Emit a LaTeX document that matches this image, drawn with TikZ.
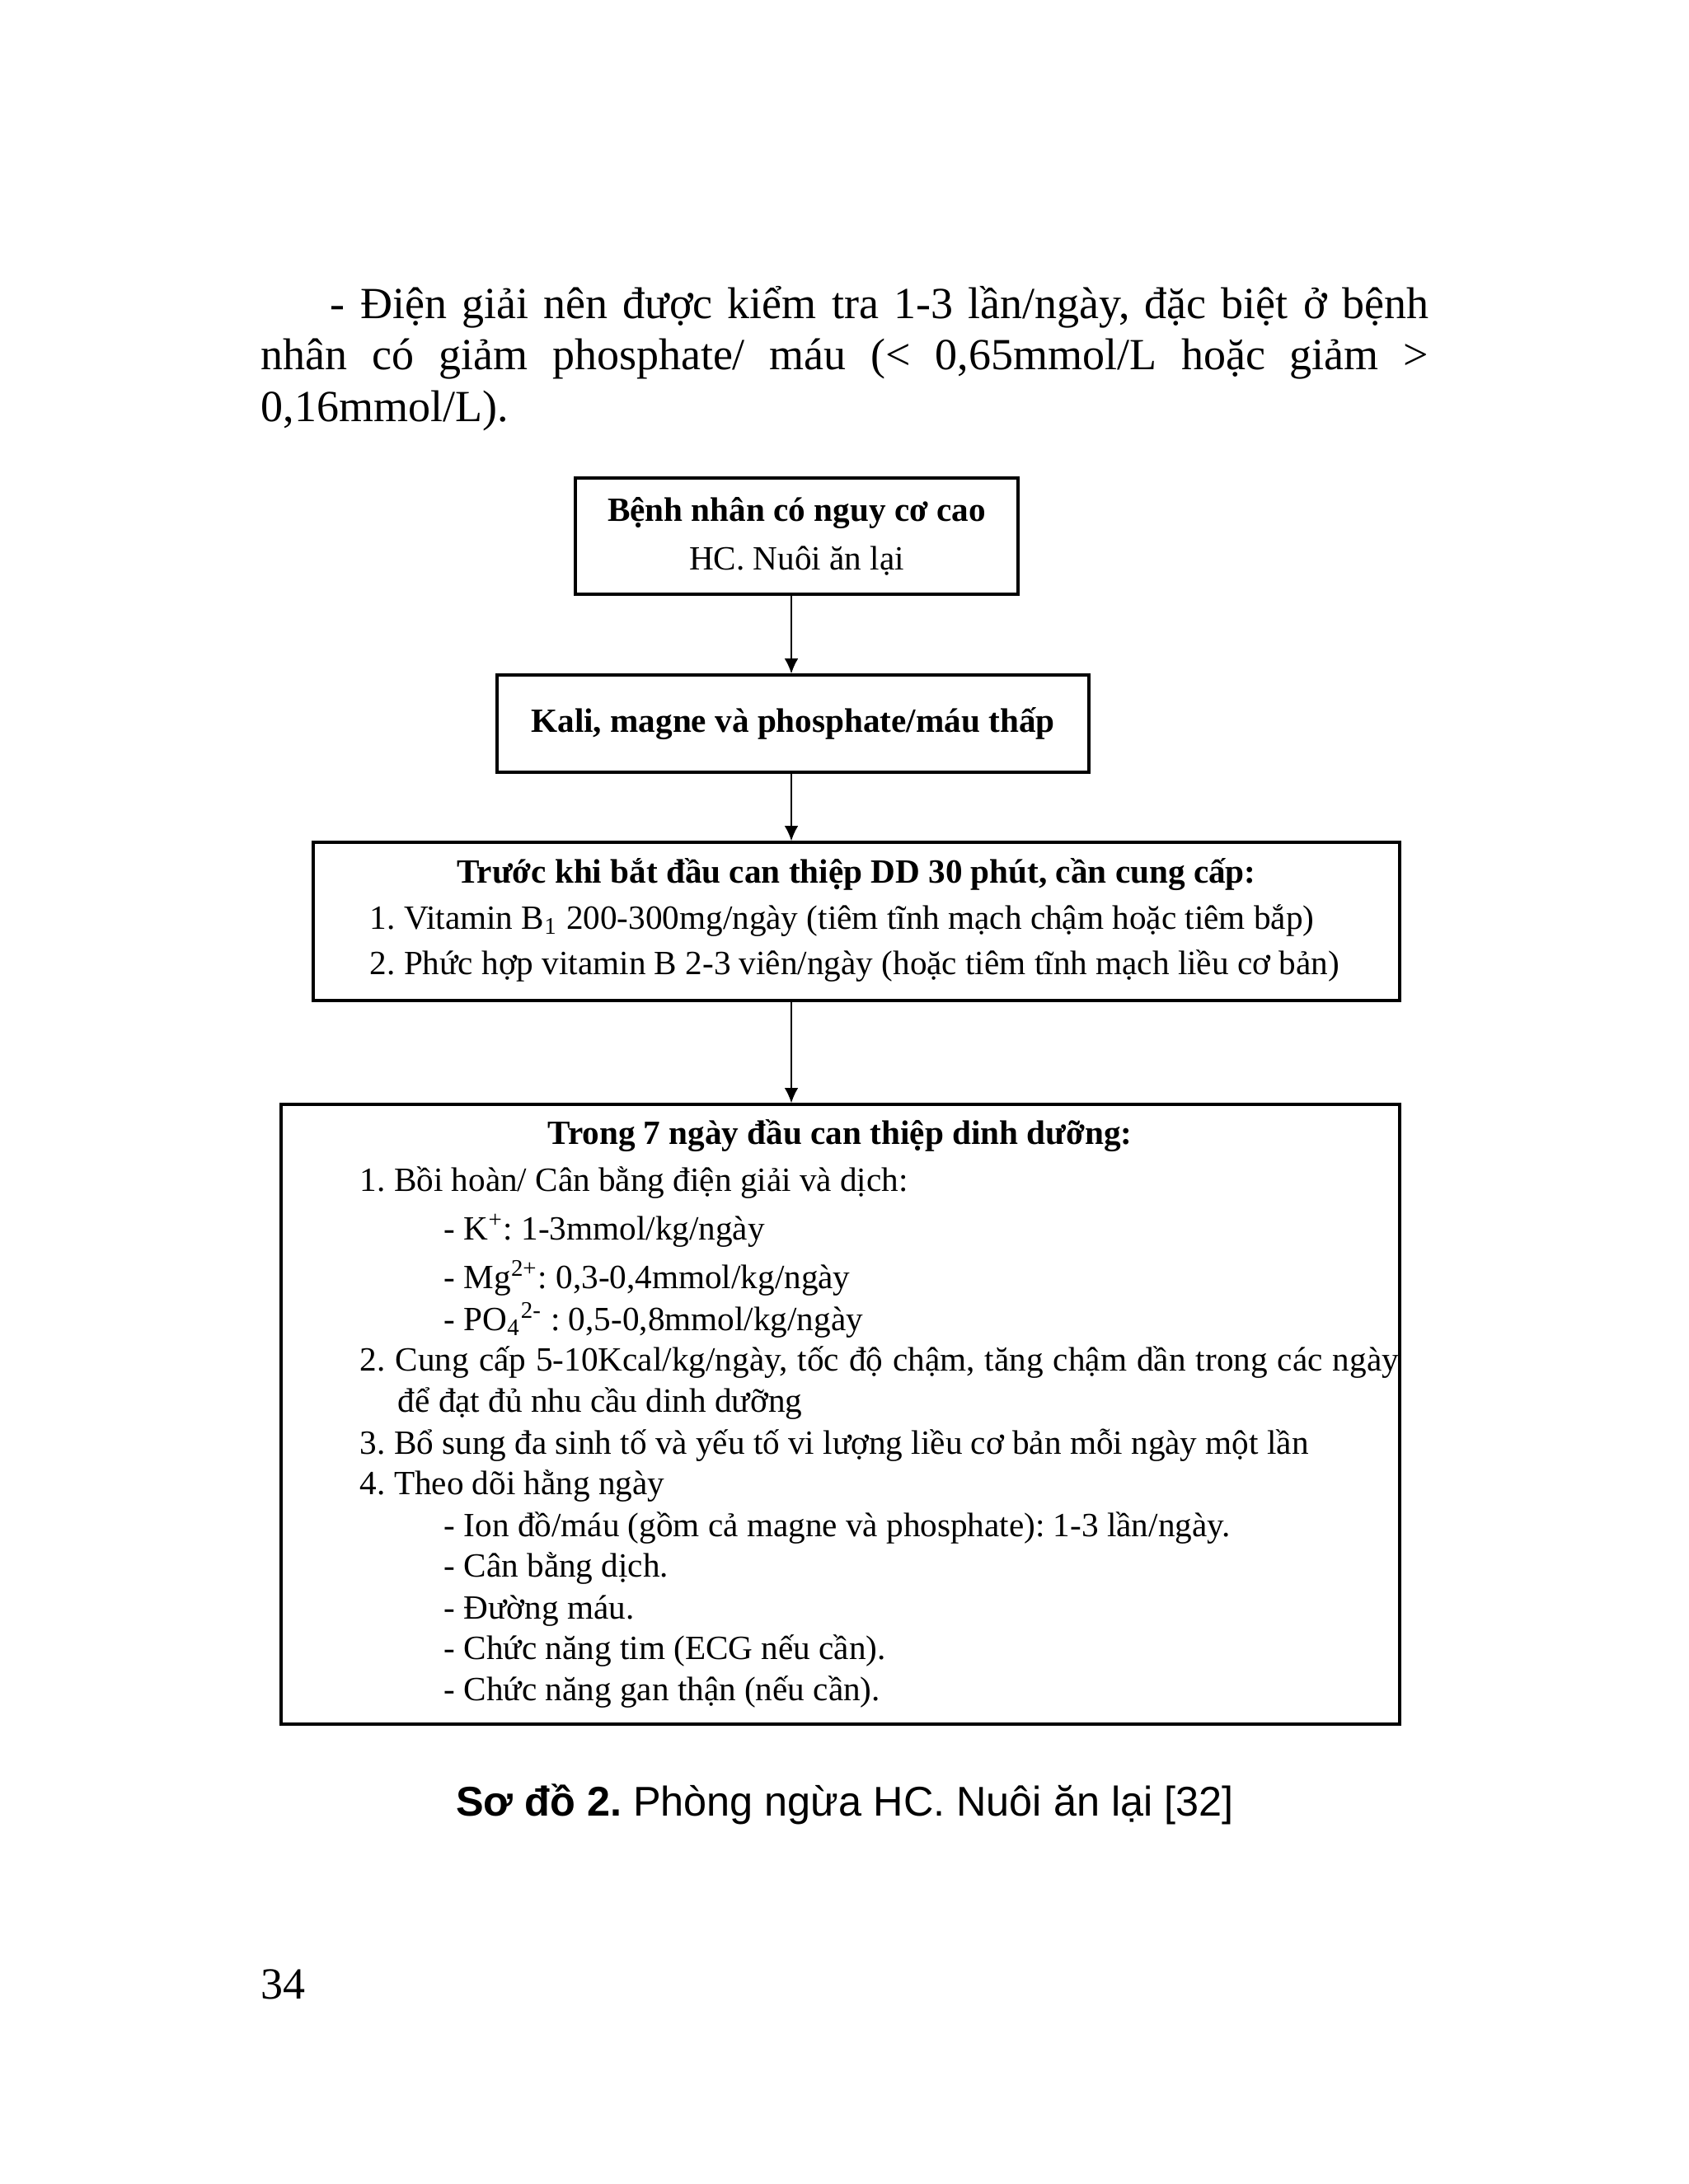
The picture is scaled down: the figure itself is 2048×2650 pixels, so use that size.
\documentclass[tikz,border=0pt]{standalone}
\usepackage{fontspec}
\setmainfont{Liberation Serif}
\newfontfamily\capfont{Liberation Sans}
\usetikzlibrary{arrows.meta}
\frenchspacing

\begin{document}
\begin{tikzpicture}[x=0.25pt, y=-0.25pt,
    box/.style={draw, line width=0.8pt, inner sep=0pt, align=center},
    boxfont/.style={font=\fontsize{10.3}{14.75}\selectfont},
    line/.style={boxfont, anchor=base west, inner sep=0pt},
    head/.style={boxfont, anchor=base, inner sep=0pt, font=\fontsize{10.3}{14.75}\selectfont\bfseries},
    body/.style={font=\fontsize{13.5}{15.6}\selectfont, anchor=base west, inner sep=0pt},
    arr/.style={-{Latex[length=4.6pt,width=4.2pt]}, line width=0.5pt}]

\useasboundingbox (0,0) rectangle (2048,2650);

% Text above the chart
\node[body] (p1) at (400,387) {\makebox[333pt][s]{- Điện giải nên được kiểm tra 1-3 lần/ngày, đặc biệt ở bệnh}};
\node[body] (p2) at (316,449) {\makebox[354pt][s]{nhân có giảm phosphate/ máu (< 0,65mmol/L hoặc giảm >}};
\node[body] (p3) at (316,512) {0,16mmol/L).};

% Boxes
\node[box, boxfont, minimum width=134.25pt, minimum height=35.25pt] (risk) at (966.5,650.5)
    {\textbf{Bệnh nhân có nguy cơ cao}\\HC. Nuôi ăn lại};
\node[box, boxfont, minimum width=179.5pt, minimum height=29.5pt] (low) at (962,878)
    {\textbf{Kali, magne và phosphate/máu thấp}};
\node[box, minimum width=329.5pt, minimum height=48pt] (before) at (1039,1118) {};
\node[box, minimum width=339.25pt, minimum height=188pt] (week) at (1019.5,1716) {};

% Text of the third box
\node[head] (beforeT) at (1039,1071) {Trước khi bắt đầu can thiệp DD 30 phút, cần cung cấp:};
\node[line] (b1) at (448,1127) {1. Vitamin B\textsubscript{1} 200-300mg/ngày (tiêm tĩnh mạch chậm hoặc tiêm bắp)};
\node[line] (b2) at (448,1182) {2. Phức hợp vitamin B 2-3 viên/ngày (hoặc tiêm tĩnh mạch liều cơ bản)};

% Text of the fourth box
\node[head] (weekT) at (1019,1388) {Trong 7 ngày đầu can thiệp dinh dưỡng:};
\node[line] (w1) at (436,1445) {1. Bồi hoàn/ Cân bằng điện giải và dịch:};
\node[line] (w1a) at (538,1504) {- K\textsuperscript{+}: 1-3mmol/kg/ngày};
\node[line] (w1b) at (538,1563) {- Mg\textsuperscript{2+}: 0,3-0,4mmol/kg/ngày};
\node[line] (w1c) at (538,1614) {- PO\textsubscript{4}\textsuperscript{2-} : 0,5-0,8mmol/kg/ngày};
\node[line] (w2) at (436,1663) {\makebox[315pt][s]{2. Cung cấp 5-10Kcal/kg/ngày, tốc độ chậm, tăng chậm dần trong các ngày}};
\node[line] (w2b) at (482,1713) {để đạt đủ nhu cầu dinh dưỡng};
\node[line] (w3) at (436,1764) {3. Bổ sung đa sinh tố và yếu tố vi lượng liều cơ bản mỗi ngày một lần};
\node[line] (w4) at (436,1813) {4. Theo dõi hằng ngày};
\node[line] (w4a) at (538,1864) {- Ion đồ/máu (gồm cả magne và phosphate): 1-3 lần/ngày.};
\node[line] (w4b) at (538,1913) {- Cân bằng dịch.};
\node[line] (w4c) at (538,1964) {- Đường máu.};
\node[line] (w4d) at (538,2013) {- Chức năng tim (ECG nếu cần).};
\node[line] (w4e) at (538,2063) {- Chức năng gan thận (nếu cần).};

% Arrows
\coordinate (ax) at (960,0);
\draw[arr] (risk.south -| ax) -- (low.north -| ax);
\draw[arr] (low.south -| ax) -- (before.north -| ax);
\draw[arr] (before.south -| ax) -- (week.north -| ax);

% Caption and page number
\node[anchor=base, inner sep=0pt, font=\fontsize{12.6}{15}\capfont] (cap) at (1025,2203)
    {\textbf{Sơ đồ 2.} Phòng ngừa HC. Nuôi ăn lại [32]};
\node[body] (page) at (316,2425) {34};

\end{tikzpicture}
\end{document}
